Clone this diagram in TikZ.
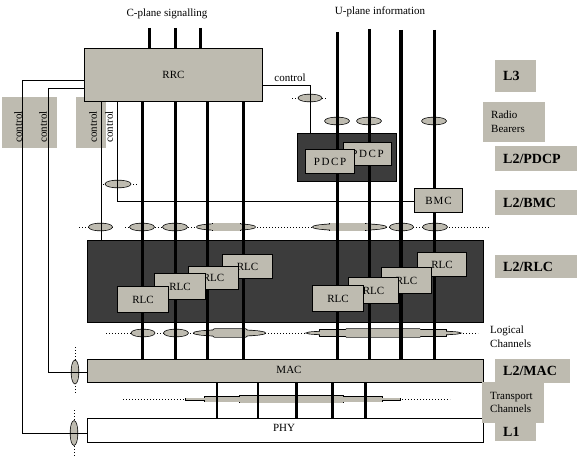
\documentclass[tikz,border=0pt]{standalone}
\usepackage{fontspec}
\setmainfont{Liberation Serif}
\definecolor{pgray}{RGB}{190,187,176}
\definecolor{pdark}{RGB}{60,60,60}
\pgfdeclarelayer{bg}
\pgfdeclarelayer{mid}
\pgfsetlayers{bg,mid,main}
\newcommand\fsz{\fontsize{11}{13}\selectfont}
\newcommand\lfs{\fontsize{14}{16}\selectfont\bfseries}
\newcommand\allshapes[1]{%
 \path[#1] (310,98) ellipse [x radius=11.5pt, y radius=3.5pt];
 \path[#1] (118,184) ellipse [x radius=12.5pt, y radius=3.5pt];
 \foreach \x in {337,369,434} {\path[#1] (\x,121) ellipse [x radius=12pt, y radius=3.5pt];}
 % row 227
 \path[#1] (100.5,227) ellipse [x radius=11.5pt, y radius=3.5pt];
 \path[#1] (142,227) ellipse [x radius=12pt, y radius=3.5pt];
 \path[#1] (175,227) ellipse [x radius=12pt, y radius=3.5pt];
 \path[#1] (226,227) ellipse [x radius=29pt, y radius=3.2pt];
 \path[#1] (213,223.4) rectangle (240,230.6);
 \path[#1] (349.5,227) ellipse [x radius=36.5pt, y radius=3.2pt];
 \path[#1] (330,223.4) rectangle (365,230.6);
 \path[#1] (401.5,227) ellipse [x radius=11.5pt, y radius=3.5pt];
 \path[#1] (435,227) ellipse [x radius=12pt, y radius=3.5pt];
 % row 333
 \path[#1] (143,333) ellipse [x radius=11.5pt, y radius=3.5pt];
 \path[#1] (176,333) ellipse [x radius=12pt, y radius=3.5pt];
 \path[#1] (229.5,333) ellipse [x radius=35.5pt, y radius=3pt];
 \path[#1, rounded corners=2pt] (213,329) rectangle (247,337);
 \path[#1] (383.5,333) ellipse [x radius=76.5pt, y radius=2.5pt];
 \path[#1] (320,330) rectangle (446,336);
 \path[#1, rounded corners=1.5pt] (345,329) rectangle (421,337);
 % transport row
 \path[#1] (186,398.2) rectangle (400,399.8);
 \path[#1] (205,396.5) rectangle (382,401.5);
 \path[#1] (240,395.5) rectangle (343,402.5);
 % vertical ones
 \path[#1] (75,372) ellipse [x radius=3.5pt, y radius=11.5pt];
 \path[#1] (74,433) ellipse [x radius=3.5pt, y radius=12pt];
}
\begin{document}
\begin{tikzpicture}[x=1pt,y=-1pt,
  gbox/.style={draw=black, line width=1pt, fill=pgray, inner sep=0pt, anchor=north west, font=\fsz},
  dbox/.style={draw=black, line width=1pt, fill=pdark, inner sep=0pt, anchor=north west},
  lbox/.style={fill=pgray, inner xsep=8pt, inner ysep=0pt, anchor=north west, align=left},
  txt/.style={inner sep=0pt, font=\fsz},
  thk/.style={line width=3pt},
  thinl/.style={line width=1pt},
  dots/.style={line width=0.8pt, dash pattern=on 0.8pt off 2.2pt}]
\useasboundingbox (0,0) rectangle (580,457);

% background layer boxes
\begin{pgfonlayer}{bg}
  \fill[white] (0,0) rectangle (580,457);
  \node[dbox, minimum width=396pt, minimum height=82pt] (rlcbg) at (87,240) {};
  \node[dbox, minimum width=99pt, minimum height=48pt] (pdcpbg) at (297,133) {};
  \node[fill=pgray, inner sep=0pt, anchor=north west, minimum width=55pt, minimum height=51pt] (cb1) at (2,97) {};
  \node[fill=pgray, inner sep=0pt, anchor=north west, minimum width=30pt, minimum height=51pt] (cb2) at (76,97) {};
  % right labels
  \node[lbox, minimum width=41pt, minimum height=32pt, text width=25pt, font=\lfs] (l3) at (495,60) {L3};
  \node[lbox, minimum width=62pt, minimum height=40pt, text width=46pt, font=\fontsize{11}{14}\selectfont] (rb) at (483,102) {Radio\\Bearers};
  \node[lbox, minimum width=82pt, minimum height=25pt, text width=66pt, font=\lfs] (lpdcp) at (495,146) {L2/PDCP};
  \node[lbox, minimum width=82pt, minimum height=25pt, text width=66pt, font=\lfs] (lbmc) at (495,190) {L2/BMC};
  \node[lbox, minimum width=82pt, minimum height=23pt, text width=66pt, font=\lfs] (lrlc) at (495,255) {L2/RLC};
  \node[lbox, minimum width=75pt, minimum height=24pt, text width=59pt, font=\lfs] (lmac) at (495,359) {L2/MAC};
\end{pgfonlayer}

% main boxes
\node[gbox, minimum width=178pt, minimum height=53pt] (rrc) at (84,48) {RRC};
\node[gbox, minimum width=48pt, minimum height=23pt, font=\fsz\addfontfeature{LetterSpace=15}] (pdcpb) at (343,142) {PDCP};
\node[gbox, minimum width=49pt, minimum height=24pt, font=\fsz\addfontfeature{LetterSpace=15}] (pdcpa) at (305,149) {PDCP};
\node[gbox, minimum width=48pt, minimum height=24pt, font=\fsz\addfontfeature{LetterSpace=8}] (bmc) at (414,188) {BMC};
\node[gbox, minimum width=50pt, minimum height=24pt] (rl4) at (222,254) {RLC};
\node[gbox, minimum width=50pt, minimum height=23pt] (rl3) at (188,266) {RLC};
\node[gbox, minimum width=51pt, minimum height=26pt] (rl2) at (154,273) {RLC};
\node[gbox, minimum width=51pt, minimum height=26pt] (rl1) at (117,286) {RLC};
\node[gbox, minimum width=49pt, minimum height=24pt] (rr4) at (417,252) {RLC};
\node[gbox, minimum width=50pt, minimum height=26pt] (rr3) at (381,267) {RLC};
\node[gbox, minimum width=50pt, minimum height=26pt] (rr2) at (348,277) {RLC};
\node[gbox, minimum width=51pt, minimum height=26pt] (rr1) at (312,285) {RLC};
\node[gbox, minimum width=396pt, minimum height=23pt] (mac) at (87,359) {};
\node[txt] (mactxt) at (289,370) {MAC};
\node[gbox, fill=white, minimum width=396pt, minimum height=24pt] (phy) at (87,418) {};
\node[txt] (phytxt) at (284,428) {PHY};
\node[lbox, minimum width=62pt, minimum height=41pt, text width=46pt, font=\fontsize{11}{13}\selectfont] (tc) at (482,382) {Transport\\Channels};
\node[lbox, minimum width=41pt, minimum height=18pt, text width=25pt, font=\lfs] (l1) at (495,423) {L1};

% texts
\node[txt] (cps) at (167,14) {C-plane signalling};
\node[txt] (upi) at (380,12) {U-plane information};
\node[txt] (ctl) at (290,78) {control};
\node[txt, rotate=90] (c1) at (18,127) {control};
\node[txt, rotate=90] (c2) at (43,127) {control};
\node[txt, rotate=90] (c3) at (93,127) {control};
\node[txt, rotate=90] (c4) at (109,127) {control};
\node[txt, anchor=west, align=left, font=\fontsize{11}{14}\selectfont] (lc) at (490,337) {Logical\\Channels};

\begin{pgfonlayer}{mid}
  % dotted guide lines
  \draw[dots] (292,98) -- (326,98);
  \draw[dots] (103,184) -- (137,184);
  \draw[dots] (79,227) -- (113,227);
  \draw[dots] (125,227) -- (490,227);
  \draw[dots] (106,333) -- (478,333);
  \draw[dots] (123,399) -- (450,399);
  \draw[dots] (75,347) -- (75,393);
  \draw[dots] (74,410) -- (74,457);
  % ellipses: outline then fill
  \allshapes{draw=black, line width=1.4pt}
  \allshapes{fill=pgray}
  % thin control lines
  \coordinate (k1) at (22,81);  \coordinate (k2) at (22,433);
  \draw[thinl] (rrc.west |- k1) -- (k1) -- (k2) -- (phy.west |- k2);
  \coordinate (k3) at (48,89);  \coordinate (k4) at (48,372);
  \draw[thinl] (rrc.west |- k3) -- (k3) -- (k4) -- (mac.west |- k4);
  \coordinate (k5) at (101,0);
  \draw[thinl] (rrc.south -| k5) -- (rlcbg.north -| k5);
  \coordinate (k6) at (117,201);
  \draw[thinl] (rrc.south -| k6) -- (k6) -- (bmc.west |- k6);
  \coordinate (k7) at (310,86);
  \draw[thinl] (rrc.east |- k7) -- (k7) -- (pdcpbg.north -| k7);
  % C-plane lines
  \foreach \x in {149,175,200} {\draw[thk] (\x,28) -- (\x,48);}
  \foreach \x in {142,175,207,243} {\draw[thk] (\x,101) -- (\x,359);}
  % U-plane lines
  \draw[thk] (337,32) -- (337,359);
  \draw[thk] (369,29) -- (369,359);
  \draw[line width=4pt] (401,30) -- (401,359);
  \draw[thk] (434,30) -- (434,359);
  % transport channels
  \foreach \x in {217,258} {\draw[line width=2pt] (\x,382) -- (\x,418);}
  \foreach \x in {296,332,365} {\draw[thk] (\x,382) -- (\x,418);}
\end{pgfonlayer}
\end{tikzpicture}
\end{document}
